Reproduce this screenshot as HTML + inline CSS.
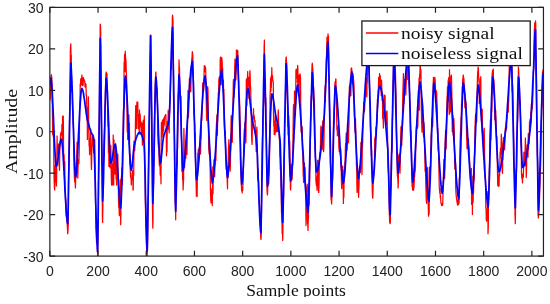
<!DOCTYPE html>
<html><head><meta charset="utf-8"><style>
html,body{margin:0;padding:0;background:#fff;}
body{width:550px;height:304px;overflow:hidden;}
svg{display:block;filter:blur(0.35px);}
</style></head><body>
<svg width="550" height="304" viewBox="0 0 550 304">
<defs><clipPath id="c"><rect x="49.9" y="7.4" width="493.6" height="248.7"/></clipPath></defs>
<g clip-path="url(#c)" fill="none" stroke-linejoin="round">
<polyline stroke="#ff0000" stroke-width="1.25" points="49.9,87.0 50.1,99.9 50.3,96.9 50.6,77.9 50.8,77.0 51.1,77.3 51.3,74.7 51.5,75.6 51.8,77.3 52.0,94.6 52.3,104.5 52.5,118.4 52.7,134.6 53.0,134.6 53.2,136.1 53.5,132.1 53.7,141.7 53.9,169.5 54.2,182.0 54.4,187.8 54.7,190.0 54.9,176.0 55.2,165.6 55.4,164.5 55.6,168.9 55.9,181.9 56.1,177.7 56.4,186.0 56.6,180.8 56.8,163.0 57.1,136.0 57.3,155.2 57.6,151.1 57.8,154.9 58.0,154.7 58.3,151.1 58.5,143.9 58.8,154.9 59.0,165.6 59.2,163.9 59.5,170.3 59.7,155.9 60.0,144.3 60.2,145.8 60.5,135.2 60.7,133.7 60.9,132.5 61.2,133.8 61.4,132.0 61.7,135.1 61.9,124.4 62.1,134.6 62.4,140.3 62.6,116.0 62.9,116.0 63.1,116.0 63.3,116.0 63.6,152.1 63.8,158.9 64.1,154.5 64.3,170.2 64.6,168.4 64.8,161.5 65.0,189.8 65.3,190.4 65.5,198.9 65.8,198.8 66.0,204.1 66.2,215.9 66.5,214.1 66.7,212.3 67.0,216.6 67.2,223.9 67.4,227.9 67.7,233.8 67.9,231.6 68.2,227.5 68.4,196.6 68.6,169.8 68.9,162.7 69.1,142.2 69.4,128.6 69.6,117.0 69.9,94.6 70.1,95.0 70.3,51.4 70.6,45.9 70.8,43.8 71.1,60.0 71.3,55.3 71.5,88.9 71.8,92.1 72.0,91.9 72.3,91.7 72.5,103.1 72.7,107.4 73.0,114.2 73.2,123.0 73.5,129.0 73.7,143.8 74.0,166.4 74.2,172.2 74.4,177.3 74.7,181.8 74.9,173.8 75.2,183.6 75.4,188.0 75.6,183.0 75.9,167.6 76.1,177.6 76.4,162.6 76.6,168.9 76.8,152.0 77.1,142.1 77.3,153.6 77.6,171.1 77.8,178.1 78.0,169.3 78.3,160.5 78.5,159.1 78.8,163.6 79.0,159.3 79.3,146.7 79.5,124.3 79.7,106.7 80.0,102.9 80.2,83.8 80.5,86.4 80.7,79.0 80.9,82.0 81.2,84.7 81.4,78.5 81.7,79.3 81.9,75.0 82.1,77.1 82.4,85.3 82.6,77.4 82.9,79.1 83.1,85.7 83.4,77.7 83.6,78.3 83.8,79.0 84.1,79.6 84.3,81.2 84.6,80.9 84.8,81.6 85.0,86.8 85.3,87.1 85.5,83.6 85.8,84.2 86.0,84.9 86.2,95.5 86.5,95.2 86.7,104.0 87.0,120.8 87.2,107.2 87.4,139.4 87.7,114.5 87.9,110.6 88.2,119.9 88.4,96.8 88.7,122.9 88.9,133.3 89.1,145.4 89.4,147.1 89.6,154.7 89.9,146.0 90.1,138.5 90.3,143.7 90.6,129.4 90.8,147.0 91.1,155.7 91.3,165.9 91.5,169.5 91.8,153.0 92.0,147.5 92.3,137.8 92.5,134.3 92.8,140.0 93.0,139.2 93.2,145.9 93.5,146.1 93.7,152.8 94.0,152.6 94.2,139.9 94.4,141.2 94.7,139.5 94.9,151.5 95.2,175.5 95.4,186.5 95.6,205.3 95.9,228.9 96.1,230.2 96.4,237.1 96.6,243.3 96.8,228.9 97.1,237.9 97.3,228.6 97.6,256.0 97.8,253.5 98.1,222.0 98.3,212.5 98.5,183.9 98.8,165.0 99.0,131.4 99.3,108.9 99.5,93.9 99.7,70.7 100.0,55.3 100.2,24.2 100.5,25.4 100.7,32.1 100.9,60.1 101.2,77.7 101.4,101.4 101.7,144.6 101.9,151.2 102.2,178.1 102.4,217.1 102.6,222.5 102.9,205.3 103.1,182.7 103.4,163.8 103.6,160.4 103.8,146.0 104.1,139.6 104.3,132.6 104.6,127.9 104.8,123.3 105.0,104.5 105.3,99.0 105.5,85.8 105.8,76.3 106.0,73.3 106.2,72.0 106.5,74.0 106.7,82.7 107.0,73.5 107.2,94.2 107.5,100.2 107.7,114.5 107.9,126.4 108.2,125.8 108.4,152.9 108.7,135.6 108.9,166.4 109.1,147.3 109.4,139.6 109.6,157.4 109.9,157.7 110.1,167.9 110.3,160.2 110.6,165.3 110.8,145.3 111.1,161.6 111.3,177.8 111.6,185.0 111.8,185.0 112.0,184.3 112.3,172.0 112.5,163.6 112.8,165.1 113.0,185.0 113.2,135.0 113.5,147.7 113.7,185.0 114.0,139.8 114.2,164.9 114.4,157.2 114.7,164.2 114.9,174.0 115.2,155.2 115.4,151.9 115.6,143.5 115.9,158.5 116.1,179.3 116.4,162.6 116.6,185.0 116.9,174.0 117.1,157.3 117.3,168.7 117.6,161.3 117.8,154.0 118.1,176.7 118.3,173.1 118.5,200.6 118.8,207.9 119.0,205.7 119.3,215.7 119.5,190.4 119.7,189.6 120.0,186.3 120.2,179.8 120.5,213.4 120.7,224.8 120.9,214.1 121.2,178.0 121.4,177.0 121.7,173.8 121.9,167.6 122.2,177.9 122.4,184.6 122.6,169.9 122.9,156.1 123.1,131.3 123.4,111.3 123.6,108.3 123.8,109.4 124.1,62.8 124.3,64.7 124.6,54.3 124.8,64.3 125.0,71.7 125.3,51.2 125.5,56.9 125.8,60.3 126.0,60.6 126.3,72.8 126.5,75.2 126.7,81.9 127.0,114.3 127.2,132.1 127.5,128.1 127.7,139.5 127.9,127.0 128.2,121.3 128.4,138.8 128.7,133.4 128.9,114.9 129.1,130.2 129.4,123.1 129.6,143.3 129.9,164.1 130.1,154.1 130.3,172.3 130.6,176.9 130.8,177.4 131.1,178.8 131.3,185.0 131.6,177.3 131.8,179.1 132.0,176.1 132.3,170.9 132.5,172.9 132.8,170.6 133.0,190.0 133.2,190.0 133.5,170.4 133.7,175.6 134.0,141.1 134.2,144.8 134.4,149.7 134.7,150.7 134.9,145.7 135.2,144.5 135.4,124.9 135.7,105.7 135.9,121.1 136.1,119.0 136.4,128.6 136.6,114.4 136.9,102.0 137.1,102.0 137.3,102.0 137.6,102.0 137.8,102.0 138.1,128.6 138.3,128.5 138.5,117.0 138.8,114.3 139.0,124.3 139.3,134.2 139.5,110.0 139.7,127.2 140.0,113.8 140.2,114.6 140.5,125.7 140.7,121.2 141.0,122.2 141.2,134.3 141.4,131.6 141.7,123.2 141.9,123.4 142.2,131.0 142.4,145.2 142.6,134.6 142.9,136.0 143.1,121.6 143.4,120.1 143.6,133.3 143.8,142.9 144.1,130.3 144.3,115.8 144.6,149.1 144.8,166.7 145.1,175.3 145.3,199.9 145.5,211.1 145.8,227.8 146.0,230.0 146.3,238.7 146.5,246.2 146.7,252.2 147.0,252.9 147.2,256.0 147.5,246.7 147.7,234.5 147.9,220.9 148.2,200.5 148.4,189.0 148.7,155.4 148.9,155.2 149.1,138.1 149.4,118.1 149.6,100.1 149.9,80.2 150.1,67.4 150.4,35.4 150.6,35.0 150.8,35.2 151.1,78.8 151.3,96.5 151.6,109.1 151.8,120.4 152.0,140.6 152.3,157.4 152.5,209.2 152.8,228.2 153.0,219.4 153.2,184.0 153.5,184.0 153.7,159.8 154.0,147.9 154.2,131.3 154.5,118.1 154.7,107.5 154.9,95.4 155.2,85.8 155.4,79.9 155.7,72.8 155.9,72.0 156.1,78.3 156.4,91.3 156.6,86.8 156.9,88.4 157.1,90.3 157.3,97.0 157.6,115.2 157.8,134.1 158.1,144.2 158.3,141.8 158.5,147.4 158.8,142.0 159.0,153.8 159.3,165.2 159.5,158.8 159.8,166.7 160.0,160.4 160.2,175.0 160.5,170.1 160.7,171.4 161.0,183.8 161.2,143.8 161.4,122.4 161.7,128.5 161.9,129.5 162.2,137.0 162.4,120.6 162.6,126.1 162.9,133.6 163.1,119.3 163.4,120.4 163.6,131.0 163.9,118.0 164.1,125.4 164.3,123.9 164.6,116.7 164.8,117.0 165.1,115.8 165.3,115.4 165.5,114.9 165.8,114.5 166.0,119.3 166.3,138.9 166.5,155.9 166.7,151.9 167.0,151.4 167.2,132.9 167.5,121.2 167.7,123.2 167.9,129.0 168.2,110.1 168.4,113.2 168.7,129.4 168.9,129.0 169.2,132.8 169.4,112.0 169.6,112.9 169.9,102.7 170.1,102.6 170.4,87.1 170.6,78.6 170.8,70.0 171.1,61.3 171.3,69.6 171.6,58.1 171.8,51.9 172.0,43.2 172.3,18.9 172.5,15.1 172.8,17.1 173.0,21.2 173.2,52.4 173.5,75.7 173.7,93.3 174.0,104.4 174.2,121.1 174.5,148.3 174.7,170.3 174.9,189.8 175.2,202.8 175.4,203.0 175.7,219.8 175.9,196.5 176.1,187.6 176.4,184.6 176.6,167.8 176.9,166.1 177.1,163.8 177.3,150.0 177.6,149.0 177.8,131.3 178.1,113.9 178.3,95.4 178.6,95.0 178.8,82.7 179.0,59.8 179.3,67.0 179.5,68.9 179.8,90.4 180.0,93.5 180.2,93.5 180.5,100.8 180.7,106.2 181.0,96.0 181.2,119.1 181.4,133.7 181.7,144.5 181.9,171.6 182.2,162.2 182.4,163.1 182.6,179.4 182.9,177.4 183.1,189.9 183.4,181.9 183.6,179.9 183.9,128.4 184.1,138.7 184.3,158.3 184.6,167.3 184.8,151.2 185.1,153.1 185.3,157.1 185.5,153.0 185.8,158.5 186.0,149.3 186.3,143.8 186.5,133.8 186.7,136.3 187.0,154.5 187.2,141.8 187.5,125.7 187.7,109.7 188.0,90.5 188.2,98.9 188.4,117.6 188.7,111.3 188.9,99.4 189.2,97.2 189.4,78.5 189.6,88.1 189.9,88.8 190.1,82.2 190.4,91.8 190.6,86.9 190.8,91.7 191.1,77.2 191.3,72.4 191.6,65.4 191.8,58.1 192.0,58.9 192.3,51.7 192.5,53.1 192.8,55.5 193.0,61.6 193.3,75.2 193.5,81.7 193.7,102.7 194.0,115.1 194.2,116.9 194.5,121.9 194.7,124.2 194.9,135.4 195.2,132.8 195.4,157.9 195.7,174.6 195.9,178.2 196.1,183.0 196.4,196.2 196.6,195.5 196.9,189.7 197.1,196.6 197.4,177.1 197.6,165.6 197.8,153.1 198.1,156.0 198.3,149.9 198.6,149.0 198.8,161.3 199.0,158.6 199.3,157.4 199.5,146.9 199.8,147.7 200.0,147.4 200.2,143.1 200.5,154.1 200.7,148.0 201.0,130.4 201.2,139.1 201.4,119.7 201.7,120.9 201.9,117.2 202.2,105.9 202.4,99.3 202.7,82.8 202.9,90.3 203.1,85.3 203.4,91.2 203.6,91.3 203.9,84.6 204.1,71.5 204.3,65.8 204.6,71.3 204.8,65.7 205.1,68.0 205.3,69.5 205.5,67.0 205.8,73.3 206.0,92.3 206.3,102.7 206.5,115.5 206.8,120.4 207.0,109.2 207.2,96.1 207.5,89.5 207.7,86.6 208.0,90.0 208.2,103.8 208.4,122.3 208.7,148.4 208.9,151.3 209.2,154.2 209.4,142.2 209.6,145.8 209.9,155.5 210.1,162.4 210.4,189.9 210.6,194.5 210.8,200.9 211.1,203.0 211.3,196.5 211.6,201.9 211.8,188.9 212.1,197.2 212.3,205.6 212.5,188.2 212.8,166.8 213.0,193.8 213.3,172.4 213.5,176.4 213.7,165.7 214.0,159.6 214.2,163.0 214.5,168.2 214.7,176.6 214.9,161.9 215.2,165.1 215.4,157.0 215.7,150.5 215.9,160.6 216.2,129.5 216.4,125.5 216.6,121.5 216.9,115.0 217.1,135.4 217.4,135.1 217.6,119.3 217.8,110.4 218.1,98.6 218.3,92.5 218.6,92.7 218.8,79.9 219.0,78.8 219.3,76.8 219.5,82.4 219.8,79.1 220.0,84.8 220.2,59.7 220.5,57.0 220.7,79.5 221.0,68.4 221.2,84.6 221.5,77.8 221.7,57.5 221.9,58.9 222.2,61.9 222.4,67.7 222.7,68.2 222.9,87.6 223.1,80.7 223.4,80.1 223.6,92.6 223.9,89.3 224.1,108.2 224.3,125.4 224.6,129.6 224.8,134.8 225.1,133.9 225.3,130.8 225.6,144.1 225.8,151.6 226.0,163.1 226.3,169.5 226.5,162.1 226.8,173.2 227.0,166.0 227.2,180.1 227.5,188.8 227.7,172.0 228.0,177.5 228.2,164.7 228.4,149.0 228.7,144.1 228.9,139.6 229.2,144.4 229.4,146.1 229.6,164.7 229.9,166.1 230.1,171.2 230.4,166.7 230.6,150.5 230.9,139.2 231.1,118.5 231.3,115.6 231.6,124.9 231.8,130.2 232.1,135.1 232.3,142.2 232.5,124.0 232.8,112.5 233.0,103.9 233.3,81.9 233.5,79.4 233.7,93.9 234.0,97.2 234.2,93.1 234.5,87.1 234.7,68.3 235.0,59.0 235.2,59.5 235.4,65.6 235.7,66.5 235.9,79.9 236.2,67.6 236.4,50.0 236.6,53.4 236.9,55.0 237.1,53.0 237.4,63.6 237.6,50.1 237.8,51.5 238.1,73.8 238.3,75.5 238.6,84.3 238.8,89.9 239.0,97.0 239.3,96.9 239.5,99.4 239.8,107.8 240.0,116.0 240.3,123.9 240.5,143.8 240.7,159.2 241.0,175.2 241.2,180.1 241.5,188.8 241.7,191.0 241.9,186.6 242.2,192.9 242.4,187.6 242.7,190.3 242.9,185.1 243.1,182.9 243.4,170.4 243.6,150.3 243.9,143.1 244.1,134.5 244.3,129.1 244.6,129.4 244.8,123.5 245.1,122.4 245.3,136.4 245.6,132.4 245.8,142.9 246.0,138.5 246.3,80.5 246.5,78.9 246.8,105.7 247.0,82.4 247.2,90.8 247.5,76.8 247.7,71.5 248.0,81.5 248.2,78.1 248.4,85.6 248.7,77.5 248.9,98.6 249.2,89.9 249.4,88.7 249.7,76.5 249.9,70.6 250.1,73.6 250.4,86.0 250.6,86.9 250.9,98.7 251.1,105.1 251.3,117.4 251.6,135.1 251.8,140.8 252.1,144.5 252.3,131.2 252.5,125.0 252.8,119.2 253.0,119.5 253.3,117.1 253.5,108.6 253.7,116.2 254.0,116.0 254.2,115.7 254.5,119.7 254.7,121.8 255.0,120.7 255.2,126.1 255.4,131.9 255.7,130.5 255.9,140.3 256.2,151.7 256.4,144.6 256.6,132.7 256.9,127.0 257.1,135.6 257.4,151.0 257.6,178.1 257.8,180.2 258.1,168.9 258.3,179.6 258.6,181.0 258.8,195.9 259.1,202.3 259.3,204.7 259.5,205.6 259.8,211.8 260.0,222.0 260.3,220.4 260.5,223.5 260.7,237.0 261.0,239.4 261.2,235.6 261.5,204.7 261.7,176.2 261.9,172.8 262.2,151.5 262.4,138.3 262.7,135.5 262.9,119.0 263.1,116.4 263.4,114.2 263.6,102.1 263.9,88.8 264.1,47.6 264.4,40.0 264.6,81.8 264.8,93.4 265.1,96.6 265.3,103.4 265.6,105.9 265.8,97.9 266.0,122.3 266.3,122.8 266.5,146.8 266.8,160.7 267.0,189.4 267.2,192.9 267.5,195.0 267.7,187.1 268.0,182.3 268.2,172.9 268.5,179.6 268.7,184.1 268.9,179.1 269.2,173.6 269.4,164.8 269.7,147.5 269.9,123.8 270.1,95.8 270.4,88.4 270.6,78.3 270.9,91.2 271.1,76.2 271.3,87.6 271.6,78.2 271.8,67.7 272.1,78.5 272.3,78.6 272.5,75.6 272.8,80.2 273.0,81.7 273.3,81.6 273.5,113.1 273.8,126.0 274.0,115.6 274.2,134.5 274.5,128.2 274.7,126.8 275.0,134.8 275.2,120.8 275.4,123.3 275.7,116.4 275.9,128.7 276.2,132.0 276.4,124.7 276.6,124.1 276.9,124.3 277.1,125.7 277.4,131.4 277.6,131.4 277.9,126.4 278.1,115.1 278.3,109.8 278.6,124.0 278.8,123.8 279.1,133.8 279.3,139.4 279.5,139.5 279.8,156.6 280.0,156.6 280.3,169.8 280.5,162.1 280.7,170.6 281.0,188.1 281.2,189.0 281.5,213.2 281.7,213.3 281.9,218.5 282.2,234.0 282.4,225.6 282.7,240.5 282.9,231.7 283.2,203.6 283.4,191.0 283.6,197.2 283.9,179.1 284.1,162.6 284.4,151.2 284.6,128.7 284.8,124.0 285.1,117.0 285.3,116.0 285.6,89.8 285.8,60.5 286.0,58.0 286.3,57.0 286.5,68.6 286.8,62.9 287.0,92.4 287.3,92.8 287.5,99.0 287.7,126.5 288.0,118.9 288.2,135.0 288.5,120.8 288.7,115.8 288.9,123.3 289.2,127.3 289.4,143.1 289.7,140.8 289.9,149.8 290.1,164.5 290.4,188.3 290.6,190.0 290.9,181.8 291.1,164.3 291.3,166.7 291.6,167.0 291.8,168.8 292.1,179.6 292.3,172.8 292.6,163.6 292.8,164.8 293.0,135.1 293.3,113.8 293.5,104.7 293.8,108.2 294.0,120.4 294.2,130.3 294.5,91.0 294.7,93.9 295.0,103.8 295.2,104.8 295.4,114.1 295.7,96.6 295.9,70.8 296.2,69.1 296.4,77.9 296.7,75.6 296.9,70.5 297.1,69.9 297.4,82.5 297.6,65.4 297.9,69.1 298.1,90.1 298.3,76.4 298.6,78.1 298.8,75.4 299.1,96.4 299.3,75.1 299.5,77.0 299.8,74.6 300.0,73.8 300.3,75.3 300.5,78.4 300.7,99.5 301.0,123.6 301.2,132.1 301.5,128.0 301.7,127.9 302.0,126.7 302.2,127.9 302.4,149.9 302.7,149.4 302.9,159.2 303.2,175.0 303.4,177.6 303.6,182.5 303.9,170.4 304.1,170.1 304.4,162.8 304.6,169.9 304.8,173.1 305.1,167.4 305.3,180.1 305.6,185.5 305.8,205.5 306.0,225.6 306.3,214.1 306.5,203.8 306.8,192.3 307.0,186.7 307.3,184.2 307.5,223.6 307.7,221.4 308.0,230.4 308.2,221.7 308.5,216.4 308.7,199.2 308.9,205.6 309.2,203.6 309.4,189.2 309.7,182.3 309.9,162.7 310.1,154.5 310.4,138.6 310.6,121.5 310.9,119.6 311.1,97.0 311.4,95.0 311.6,99.6 311.8,71.8 312.1,64.5 312.3,63.2 312.6,68.4 312.8,68.1 313.0,74.8 313.3,83.4 313.5,87.6 313.8,91.3 314.0,98.9 314.2,98.0 314.5,104.5 314.7,122.7 315.0,140.4 315.2,151.0 315.4,156.3 315.7,163.1 315.9,180.7 316.2,183.3 316.4,185.4 316.7,177.2 316.9,186.9 317.1,190.4 317.4,173.9 317.6,160.3 317.9,160.4 318.1,166.7 318.3,182.2 318.6,192.4 318.8,192.4 319.1,182.3 319.3,163.9 319.5,157.1 319.8,152.6 320.0,154.4 320.3,150.4 320.5,143.4 320.8,127.7 321.0,126.0 321.2,127.1 321.5,127.4 321.7,137.6 322.0,135.3 322.2,149.7 322.4,140.8 322.7,121.0 322.9,124.1 323.2,121.9 323.4,137.0 323.6,151.7 323.9,146.2 324.1,134.5 324.4,111.8 324.6,101.4 324.8,96.0 325.1,85.7 325.3,102.1 325.6,89.3 325.8,76.7 326.1,82.3 326.3,58.9 326.5,56.1 326.8,44.5 327.0,37.1 327.3,37.9 327.5,45.4 327.7,56.3 328.0,33.9 328.2,37.0 328.5,36.4 328.7,61.6 328.9,73.1 329.2,80.5 329.4,100.4 329.7,119.2 329.9,138.9 330.2,154.4 330.4,163.3 330.6,167.0 330.9,181.4 331.1,199.6 331.4,200.9 331.6,204.0 331.8,200.2 332.1,190.6 332.3,182.4 332.6,178.6 332.8,164.2 333.0,145.9 333.3,139.5 333.5,121.1 333.8,124.6 334.0,120.9 334.2,107.9 334.5,105.0 334.7,90.1 335.0,82.2 335.2,81.7 335.5,82.3 335.7,79.0 335.9,79.1 336.2,89.6 336.4,101.1 336.7,119.0 336.9,129.9 337.1,125.1 337.4,135.9 337.6,135.1 337.9,126.7 338.1,133.9 338.3,133.8 338.6,131.3 338.8,145.5 339.1,150.2 339.3,151.6 339.6,151.8 339.8,151.5 340.0,150.3 340.3,154.1 340.5,148.4 340.8,151.9 341.0,166.7 341.2,169.4 341.5,184.2 341.7,188.6 342.0,176.8 342.2,169.4 342.4,169.2 342.7,166.2 342.9,180.2 343.2,188.9 343.4,203.4 343.6,179.9 343.9,197.2 344.1,170.4 344.4,169.4 344.6,173.7 344.9,161.5 345.1,161.7 345.3,150.2 345.6,143.5 345.8,147.5 346.1,136.0 346.3,132.9 346.5,140.9 346.8,133.7 347.0,150.2 347.3,144.9 347.5,133.3 347.7,143.9 348.0,124.4 348.2,136.6 348.5,142.6 348.7,131.1 349.0,123.6 349.2,100.0 349.4,86.2 349.7,89.8 349.9,84.6 350.2,96.1 350.4,95.0 350.6,86.6 350.9,95.4 351.1,68.5 351.4,71.0 351.6,67.8 351.8,70.0 352.1,72.3 352.3,83.4 352.6,77.5 352.8,79.1 353.0,73.7 353.3,76.3 353.5,79.2 353.8,82.4 354.0,86.4 354.3,114.1 354.5,117.7 354.7,125.7 355.0,132.3 355.2,127.4 355.5,118.7 355.7,131.4 355.9,141.2 356.2,147.7 356.4,164.3 356.7,170.1 356.9,186.1 357.1,192.5 357.4,186.1 357.6,190.4 357.9,172.5 358.1,184.9 358.4,188.9 358.6,197.3 358.8,190.8 359.1,184.2 359.3,170.1 359.6,166.6 359.8,168.7 360.0,167.2 360.3,172.7 360.5,165.2 360.8,155.2 361.0,142.4 361.2,148.7 361.5,162.2 361.7,168.9 362.0,174.6 362.2,155.2 362.4,148.4 362.7,141.9 362.9,122.7 363.2,120.7 363.4,117.3 363.7,102.3 363.9,110.7 364.1,112.1 364.4,111.4 364.6,109.6 364.9,101.0 365.1,102.1 365.3,96.8 365.6,93.2 365.8,90.6 366.1,87.2 366.3,78.1 366.5,83.4 366.8,97.0 367.0,84.4 367.3,81.9 367.5,70.2 367.7,46.0 368.0,48.6 368.2,45.0 368.5,50.4 368.7,48.5 369.0,54.7 369.2,67.5 369.4,77.9 369.7,97.3 369.9,102.2 370.2,108.1 370.4,125.7 370.6,133.8 370.9,143.0 371.1,147.8 371.4,155.8 371.6,150.2 371.8,161.3 372.1,172.1 372.3,191.8 372.6,197.3 372.8,198.2 373.1,188.8 373.3,174.8 373.5,171.4 373.8,172.9 374.0,170.8 374.3,165.1 374.5,160.5 374.7,138.9 375.0,138.1 375.2,137.1 375.5,136.3 375.7,138.6 375.9,127.5 376.2,129.3 376.4,129.6 376.7,122.9 376.9,124.6 377.1,115.7 377.4,99.1 377.6,107.7 377.9,95.9 378.1,91.4 378.4,88.7 378.6,77.9 378.8,77.3 379.1,84.4 379.3,80.2 379.6,73.5 379.8,77.2 380.0,87.5 380.3,75.9 380.5,82.6 380.8,82.0 381.0,90.2 381.2,95.6 381.5,80.1 381.7,84.1 382.0,100.3 382.2,95.1 382.5,102.6 382.7,118.5 382.9,114.4 383.2,120.1 383.4,128.0 383.7,112.1 383.9,111.9 384.1,114.8 384.4,95.0 384.6,107.8 384.9,103.4 385.1,95.7 385.3,118.6 385.6,111.6 385.8,113.0 386.1,124.8 386.3,116.0 386.5,113.8 386.8,115.1 387.0,110.9 387.3,124.6 387.5,133.5 387.8,148.5 388.0,166.4 388.2,170.3 388.5,173.1 388.7,178.0 389.0,192.1 389.2,201.3 389.4,215.7 389.7,222.8 389.9,217.8 390.2,223.7 390.4,220.8 390.6,200.0 390.9,183.5 391.1,164.5 391.4,156.7 391.6,151.9 391.9,152.3 392.1,147.1 392.3,127.0 392.6,114.9 392.8,101.8 393.1,80.5 393.3,82.0 393.5,50.5 393.8,71.7 394.0,45.0 394.3,49.7 394.5,63.0 394.7,53.5 395.0,59.5 395.2,66.4 395.5,73.9 395.7,81.9 395.9,90.2 396.2,105.9 396.4,125.4 396.7,150.7 396.9,158.2 397.2,169.1 397.4,176.3 397.6,176.5 397.9,179.9 398.1,188.0 398.4,179.4 398.6,155.8 398.8,166.2 399.1,154.1 399.3,161.2 399.6,164.5 399.8,164.0 400.0,173.3 400.3,163.2 400.5,147.5 400.8,133.1 401.0,126.7 401.3,137.5 401.5,141.7 401.7,145.8 402.0,133.5 402.2,124.6 402.5,116.2 402.7,99.3 402.9,91.2 403.2,82.0 403.4,73.7 403.7,94.5 403.9,103.0 404.1,94.5 404.4,93.7 404.6,89.7 404.9,79.5 405.1,88.6 405.3,91.8 405.6,87.8 405.8,95.1 406.1,84.2 406.3,82.2 406.6,70.1 406.8,70.9 407.0,71.3 407.3,79.5 407.5,50.7 407.8,46.5 408.0,45.0 408.2,54.3 408.5,48.0 408.7,65.9 409.0,82.9 409.2,85.3 409.4,86.8 409.7,101.4 409.9,101.6 410.2,109.3 410.4,131.8 410.7,138.2 410.9,130.3 411.1,140.4 411.4,145.5 411.6,152.9 411.9,174.0 412.1,186.5 412.3,186.5 412.6,190.0 412.8,186.4 413.1,174.4 413.3,183.7 413.5,190.3 413.8,186.7 414.0,188.1 414.3,180.1 414.5,168.1 414.7,176.6 415.0,163.7 415.2,171.7 415.5,166.0 415.7,147.9 416.0,142.0 416.2,131.3 416.4,127.4 416.7,124.9 416.9,125.8 417.2,128.5 417.4,127.3 417.6,127.5 417.9,125.2 418.1,105.7 418.4,90.6 418.6,94.0 418.8,93.9 419.1,77.8 419.3,110.2 419.6,74.7 419.8,78.5 420.1,65.0 420.3,63.0 420.5,74.0 420.8,69.4 421.0,71.9 421.3,108.7 421.5,118.0 421.7,123.8 422.0,132.2 422.2,115.0 422.5,101.4 422.7,109.5 422.9,115.6 423.2,122.7 423.4,134.5 423.7,136.8 423.9,122.7 424.1,130.0 424.4,140.9 424.6,143.8 424.9,160.3 425.1,171.3 425.4,160.0 425.6,173.4 425.8,184.4 426.1,193.7 426.3,200.8 426.6,203.3 426.8,192.8 427.0,179.7 427.3,167.5 427.5,168.2 427.8,181.8 428.0,199.8 428.2,203.9 428.5,216.2 428.7,205.2 429.0,214.6 429.2,210.1 429.4,167.0 429.7,171.7 429.9,169.2 430.2,167.2 430.4,168.2 430.7,153.8 430.9,144.8 431.1,135.6 431.4,133.0 431.6,123.5 431.9,118.1 432.1,118.2 432.3,117.9 432.6,126.8 432.8,120.4 433.1,106.6 433.3,80.9 433.5,77.4 433.8,78.0 434.0,92.8 434.3,89.2 434.5,85.7 434.8,77.3 435.0,78.5 435.2,80.7 435.5,89.2 435.7,91.2 436.0,101.6 436.2,92.8 436.4,90.9 436.7,93.6 436.9,101.4 437.2,105.3 437.4,114.9 437.6,130.8 437.9,128.5 438.1,149.8 438.4,151.1 438.6,153.0 438.8,163.9 439.1,177.9 439.3,188.0 439.6,190.7 439.8,193.2 440.1,188.7 440.3,197.8 440.5,195.3 440.8,201.5 441.0,203.0 441.3,204.1 441.5,205.0 441.7,205.5 442.0,205.6 442.2,203.4 442.5,205.3 442.7,204.8 442.9,198.9 443.2,185.4 443.4,174.0 443.7,166.0 443.9,159.3 444.2,169.3 444.4,175.2 444.6,178.5 444.9,167.7 445.1,144.2 445.4,136.9 445.6,130.3 445.8,131.8 446.1,148.9 446.3,139.8 446.6,132.4 446.8,109.0 447.0,98.3 447.3,94.7 447.5,86.7 447.8,101.5 448.0,86.7 448.2,79.9 448.5,95.7 448.7,77.6 449.0,107.2 449.2,114.5 449.5,69.6 449.7,78.8 449.9,112.9 450.2,76.7 450.4,111.6 450.7,111.0 450.9,95.2 451.1,81.6 451.4,75.0 451.6,81.5 451.9,97.6 452.1,115.0 452.3,131.8 452.6,129.0 452.8,115.6 453.1,134.9 453.3,131.9 453.6,126.6 453.8,118.4 454.0,120.8 454.3,132.5 454.5,152.9 454.8,169.1 455.0,164.9 455.2,169.0 455.5,162.9 455.7,188.0 456.0,193.3 456.2,195.6 456.4,197.7 456.7,199.6 456.9,201.3 457.2,202.8 457.4,204.1 457.6,205.2 457.9,200.1 458.1,199.6 458.4,200.4 458.6,204.5 458.9,202.0 459.1,202.8 459.3,178.4 459.6,178.9 459.8,160.2 460.1,143.4 460.3,137.2 460.5,130.7 460.8,124.0 461.0,117.4 461.3,117.8 461.5,103.8 461.7,106.4 462.0,99.3 462.2,86.6 462.5,93.1 462.7,79.2 463.0,78.1 463.2,75.0 463.4,75.7 463.7,81.1 463.9,78.4 464.2,86.2 464.4,93.9 464.6,91.4 464.9,107.8 465.1,107.5 465.4,99.9 465.6,106.2 465.8,101.8 466.1,104.9 466.3,118.3 466.6,136.3 466.8,140.9 467.0,148.3 467.3,149.0 467.5,145.8 467.8,147.8 468.0,143.1 468.3,140.4 468.5,139.0 468.7,148.5 469.0,146.9 469.2,154.1 469.5,158.6 469.7,164.1 469.9,169.3 470.2,174.8 470.4,179.1 470.7,171.1 470.9,179.7 471.1,181.2 471.4,168.4 471.6,204.3 471.9,181.0 472.1,176.2 472.4,214.6 472.6,192.2 472.8,200.6 473.1,202.4 473.3,194.3 473.6,191.9 473.8,180.3 474.0,181.8 474.3,177.0 474.5,156.8 474.8,150.2 475.0,128.2 475.2,121.8 475.5,115.9 475.7,113.8 476.0,115.3 476.2,119.2 476.4,116.2 476.7,122.0 476.9,105.7 477.2,88.2 477.4,79.0 477.7,71.5 477.9,72.1 478.1,67.0 478.4,68.6 478.6,75.6 478.9,82.2 479.1,78.5 479.3,103.6 479.6,99.8 479.8,93.7 480.1,95.5 480.3,95.9 480.5,81.4 480.8,76.6 481.0,104.9 481.3,115.4 481.5,120.6 481.8,122.4 482.0,114.3 482.2,109.1 482.5,127.2 482.7,137.0 483.0,136.4 483.2,146.2 483.4,138.9 483.7,134.0 483.9,130.9 484.2,128.2 484.4,137.8 484.6,154.4 484.9,165.9 485.1,177.8 485.4,176.4 485.6,189.8 485.8,207.3 486.1,209.3 486.3,219.6 486.6,221.2 486.8,214.2 487.1,215.2 487.3,214.8 487.5,202.7 487.8,191.6 488.0,233.8 488.3,227.0 488.5,197.3 488.7,199.6 489.0,190.2 489.2,171.9 489.5,166.2 489.7,155.7 489.9,135.0 490.2,127.3 490.4,119.8 490.7,128.3 490.9,139.7 491.1,129.3 491.4,123.4 491.6,113.2 491.9,111.3 492.1,74.7 492.4,72.7 492.6,70.4 492.8,75.5 493.1,75.1 493.3,69.1 493.6,87.0 493.8,79.4 494.0,83.3 494.3,95.2 494.5,90.6 494.8,119.9 495.0,116.0 495.2,113.0 495.5,115.8 495.7,110.2 496.0,122.4 496.2,127.5 496.5,139.3 496.7,136.0 496.9,139.3 497.2,159.0 497.4,167.7 497.7,184.0 497.9,185.9 498.1,172.8 498.4,180.7 498.6,180.8 498.9,186.5 499.1,185.5 499.3,175.1 499.6,175.4 499.8,169.7 500.1,152.0 500.3,157.9 500.5,148.1 500.8,154.3 501.0,151.2 501.3,134.1 501.5,136.3 501.8,139.5 502.0,147.3 502.2,171.9 502.5,173.3 502.7,157.1 503.0,159.8 503.2,142.7 503.4,145.9 503.7,137.4 503.9,141.3 504.2,139.3 504.4,141.9 504.6,149.8 504.9,142.1 505.1,132.2 505.4,127.7 505.6,129.4 505.9,130.5 506.1,128.5 506.3,122.9 506.6,128.8 506.8,118.3 507.1,118.0 507.3,115.1 507.5,110.4 507.8,100.5 508.0,100.1 508.3,112.2 508.5,104.6 508.7,100.0 509.0,84.9 509.2,68.4 509.5,57.6 509.7,55.8 509.9,54.3 510.2,53.1 510.4,52.2 510.7,51.6 510.9,61.1 511.2,60.5 511.4,55.0 511.6,58.8 511.9,58.0 512.1,90.5 512.4,92.1 512.6,85.3 512.8,95.0 513.1,105.1 513.3,115.5 513.6,132.7 513.8,144.1 514.0,162.7 514.3,169.2 514.5,170.2 514.8,178.8 515.0,213.6 515.3,223.7 515.5,213.8 515.7,176.6 516.0,175.1 516.2,169.4 516.5,171.3 516.7,157.8 516.9,147.9 517.2,131.9 517.4,123.9 517.7,120.5 517.9,112.7 518.1,103.8 518.4,67.0 518.6,68.8 518.9,75.7 519.1,78.6 519.3,81.8 519.6,95.5 519.8,97.6 520.1,103.4 520.3,101.7 520.6,118.4 520.8,138.6 521.0,145.0 521.3,149.0 521.5,174.2 521.8,177.9 522.0,173.9 522.2,178.6 522.5,183.0 522.7,175.1 523.0,177.5 523.2,176.6 523.4,176.9 523.7,160.9 523.9,152.2 524.2,165.3 524.4,159.4 524.7,159.9 524.9,165.7 525.1,151.8 525.4,138.0 525.6,146.4 525.9,155.0 526.1,166.2 526.3,177.6 526.6,167.2 526.8,155.8 527.1,144.8 527.3,152.9 527.5,150.2 527.8,152.3 528.0,157.2 528.3,133.5 528.5,149.2 528.7,141.9 529.0,134.7 529.2,143.3 529.5,121.7 529.7,122.5 530.0,119.2 530.2,120.2 530.4,124.6 530.7,112.0 530.9,122.5 531.2,116.1 531.4,103.8 531.6,111.4 531.9,102.5 532.1,109.2 532.4,105.9 532.6,104.3 532.8,95.6 533.1,82.0 533.3,79.9 533.6,70.0 533.8,68.1 534.1,48.9 534.3,32.5 534.5,27.3 534.8,22.9 535.0,27.0 535.3,32.4 535.5,20.8 535.7,22.9 536.0,70.8 536.2,81.9 536.5,105.0 536.7,117.2 536.9,133.6 537.2,150.3 537.4,155.4 537.7,162.5 537.9,178.2 538.1,215.6 538.4,218.0 538.6,212.5 538.9,213.5 539.1,208.6 539.4,202.9 539.6,196.4 539.8,189.4 540.1,181.9 540.3,174.1 540.6,165.9 540.8,158.1 541.0,145.0 541.3,128.4 541.5,118.0 541.8,107.6 542.0,107.4 542.2,105.1 542.5,72.4 542.7,72.4 543.0,70.0 543.2,83.6"/>
<polyline stroke="#0000ff" stroke-width="1.75" points="49.9,85.5 50.1,82.9 50.3,80.7 50.6,79.1 50.8,78.3 51.1,78.7 51.3,80.0 51.5,82.1 51.8,85.0 52.0,88.6 52.3,92.7 52.5,97.3 52.7,102.4 53.0,107.7 53.2,113.2 53.5,118.9 53.7,124.7 53.9,130.4 54.2,136.0 54.4,141.3 54.7,146.4 54.9,151.1 55.2,155.3 55.4,158.9 55.6,161.9 55.9,164.1 56.1,165.5 56.4,166.0 56.6,165.7 56.8,165.1 57.1,164.2 57.3,163.1 57.6,161.7 57.8,160.1 58.0,158.4 58.3,156.6 58.5,154.7 58.8,152.8 59.0,150.8 59.2,148.9 59.5,147.0 59.7,145.3 60.0,143.7 60.2,142.3 60.5,141.1 60.7,140.1 60.9,139.4 61.2,139.0 61.4,139.0 61.7,139.9 61.9,141.3 62.1,143.2 62.4,145.6 62.6,148.4 62.9,151.7 63.1,155.3 63.3,159.2 63.6,163.3 63.8,167.7 64.1,172.2 64.3,176.7 64.6,181.4 64.8,186.0 65.0,190.6 65.3,195.1 65.5,199.5 65.8,203.6 66.0,207.5 66.2,211.1 66.5,214.3 66.7,217.2 67.0,219.6 67.2,221.5 67.4,222.8 67.7,223.7 67.9,218.9 68.2,208.3 68.4,196.2 68.6,182.9 68.9,168.7 69.1,153.9 69.4,138.9 69.6,124.1 69.9,109.6 70.1,95.9 70.3,83.2 70.6,72.0 70.8,63.2 71.1,65.7 71.3,69.2 71.5,73.7 71.8,79.1 72.0,85.3 72.3,92.1 72.5,99.3 72.7,106.9 73.0,114.8 73.2,122.7 73.5,130.6 73.7,138.3 74.0,145.7 74.2,152.6 74.4,159.0 74.7,164.7 74.9,169.5 75.2,173.4 75.4,177.0 75.6,176.7 75.9,175.8 76.1,174.1 76.4,171.9 76.6,169.2 76.8,166.0 77.1,162.4 77.3,158.4 77.6,154.2 77.8,149.6 78.0,144.9 78.3,140.1 78.5,135.2 78.8,130.2 79.0,125.3 79.3,120.4 79.5,115.7 79.7,111.2 80.0,106.9 80.2,102.9 80.5,99.3 80.7,96.2 80.9,93.4 81.2,91.2 81.4,89.6 81.7,88.7 81.9,88.4 82.1,88.7 82.4,89.1 82.6,89.8 82.9,90.7 83.1,91.7 83.4,92.9 83.6,94.2 83.8,95.7 84.1,97.3 84.3,98.9 84.6,100.6 84.8,102.4 85.0,104.2 85.3,106.0 85.5,107.8 85.8,109.6 86.0,111.3 86.2,113.0 86.5,114.6 86.7,116.1 87.0,117.5 87.2,118.7 87.4,120.0 87.7,120.8 87.9,121.7 88.2,122.6 88.4,123.5 88.7,124.4 88.9,125.3 89.1,126.1 89.4,126.9 89.6,127.7 89.9,128.5 90.1,129.2 90.3,129.9 90.6,130.6 90.8,131.3 91.1,131.9 91.3,132.5 91.5,133.0 91.8,133.6 92.0,134.0 92.3,134.4 92.5,134.8 92.8,135.2 93.0,135.6 93.2,136.2 93.5,137.0 93.7,139.9 94.0,144.4 94.2,150.1 94.4,156.8 94.7,164.4 94.9,172.5 95.2,181.2 95.4,190.1 95.6,199.1 95.9,208.0 96.1,216.6 96.4,224.7 96.6,232.1 96.8,238.7 97.1,244.3 97.3,248.6 97.6,251.8 97.8,238.9 98.1,221.9 98.3,202.9 98.5,182.3 98.8,160.9 99.0,139.0 99.3,117.3 99.5,96.3 99.7,76.5 100.0,58.5 100.2,38.4 100.5,47.1 100.7,62.2 100.9,79.5 101.2,98.3 101.4,117.8 101.7,137.5 101.9,156.4 102.2,174.1 102.4,189.7 102.6,201.0 102.9,196.4 103.1,190.4 103.4,182.9 103.6,174.1 103.8,164.4 104.1,154.0 104.3,143.3 104.6,132.4 104.8,121.8 105.0,111.6 105.3,102.2 105.5,93.8 105.8,86.7 106.0,81.3 106.2,78.3 106.5,79.4 106.7,81.7 107.0,84.9 107.2,89.1 107.5,94.0 107.7,99.5 107.9,105.5 108.2,111.9 108.4,118.4 108.7,124.9 108.9,131.4 109.1,137.7 109.4,143.5 109.6,148.9 109.9,153.6 110.1,157.5 110.3,160.4 110.6,162.3 110.8,163.0 111.1,162.8 111.3,162.3 111.6,161.6 111.8,160.6 112.0,159.5 112.3,158.2 112.5,156.8 112.8,155.3 113.0,153.8 113.2,152.3 113.5,150.8 113.7,149.4 114.0,148.1 114.2,146.9 114.4,146.0 114.7,145.2 114.9,144.7 115.2,144.5 115.4,144.8 115.6,145.6 115.9,147.1 116.1,149.2 116.4,151.6 116.6,154.6 116.9,157.8 117.1,161.3 117.3,165.1 117.6,169.0 117.8,173.1 118.1,177.2 118.3,181.2 118.5,185.2 118.8,189.1 119.0,192.8 119.3,196.2 119.5,199.3 119.7,202.0 120.0,204.3 120.2,206.0 120.5,207.3 120.7,207.9 120.9,205.7 121.2,201.2 121.4,195.5 121.7,188.9 121.9,181.5 122.2,173.4 122.4,164.8 122.6,155.8 122.9,146.7 123.1,137.4 123.4,128.2 123.6,119.2 123.8,110.6 124.1,102.5 124.3,95.1 124.6,88.5 124.8,82.8 125.0,78.3 125.3,76.0 125.5,77.3 125.8,79.1 126.0,81.6 126.3,84.7 126.5,88.3 126.7,92.3 127.0,96.7 127.2,101.5 127.5,106.5 127.7,111.8 127.9,117.1 128.2,122.6 128.4,128.0 128.7,133.4 128.9,138.6 129.1,143.7 129.4,148.5 129.6,153.0 129.9,157.1 130.1,160.8 130.3,163.9 130.6,166.5 130.8,168.4 131.1,169.7 131.3,170.0 131.6,169.3 131.8,168.1 132.0,166.4 132.3,164.4 132.5,162.0 132.8,159.5 133.0,156.9 133.2,154.2 133.5,151.7 133.7,149.3 134.0,147.2 134.2,145.5 134.4,144.0 134.7,143.3 134.9,142.4 135.2,141.6 135.4,140.7 135.7,139.9 135.9,139.1 136.1,138.4 136.4,137.7 136.6,137.0 136.9,136.3 137.1,135.7 137.3,135.1 137.6,134.6 137.8,134.1 138.1,133.7 138.3,133.4 138.5,133.1 138.8,132.8 139.0,132.6 139.3,132.5 139.5,132.5 139.7,132.5 140.0,132.6 140.2,132.8 140.5,133.0 140.7,133.3 141.0,133.6 141.2,134.0 141.4,134.5 141.7,135.0 141.9,135.6 142.2,136.2 142.4,136.9 142.6,137.7 142.9,138.5 143.1,139.4 143.4,140.3 143.6,141.3 143.8,142.3 144.1,143.0 144.3,148.9 144.6,155.7 144.8,164.1 145.1,173.8 145.3,184.3 145.5,195.2 145.8,206.2 146.0,216.8 146.3,226.7 146.5,235.4 146.7,242.6 147.0,247.9 147.2,250.7 147.5,238.1 147.7,224.7 147.9,209.9 148.2,194.1 148.4,177.4 148.7,160.2 148.9,142.8 149.1,125.3 149.4,108.1 149.6,91.5 149.9,75.7 150.1,61.1 150.4,47.8 150.6,35.9 150.8,50.1 151.1,67.4 151.3,86.7 151.6,107.3 151.8,128.4 152.0,149.1 152.3,168.7 152.5,186.4 152.8,203.4 153.0,199.0 153.2,191.5 153.5,181.9 153.7,170.7 154.0,158.3 154.2,145.2 154.5,132.0 154.7,119.0 154.9,106.9 155.2,96.0 155.4,86.9 155.7,80.0 155.9,77.1 156.1,78.7 156.4,81.4 156.6,85.0 156.9,89.6 157.1,94.9 157.3,100.8 157.6,107.1 157.8,113.7 158.1,120.5 158.3,127.3 158.5,133.9 158.8,140.1 159.0,146.0 159.3,151.2 159.5,155.6 159.8,159.2 160.0,161.6 160.2,163.0 160.5,162.8 160.7,162.0 161.0,160.7 161.2,158.8 161.4,156.7 161.7,154.2 161.9,151.6 162.2,148.9 162.4,146.3 162.6,143.7 162.9,141.4 163.1,139.3 163.4,137.7 163.6,137.0 163.9,135.5 164.1,134.6 164.3,133.8 164.6,133.1 164.8,132.4 165.1,131.8 165.3,131.3 165.5,130.7 165.8,130.2 166.0,129.8 166.3,129.3 166.5,128.8 166.7,128.3 167.0,127.7 167.2,127.1 167.5,126.4 167.7,125.7 167.9,124.9 168.2,124.0 168.4,122.9 168.7,121.8 168.9,120.0 169.2,118.4 169.4,114.5 169.6,109.2 169.9,102.7 170.1,95.2 170.4,87.1 170.6,78.6 170.8,69.9 171.1,61.4 171.3,53.2 171.6,45.8 171.8,39.2 172.0,33.8 172.3,29.9 172.5,27.4 172.8,35.1 173.0,47.7 173.2,61.9 173.5,77.3 173.7,93.6 174.0,110.4 174.2,127.4 174.5,144.2 174.7,160.5 174.9,176.0 175.2,190.2 175.4,203.0 175.7,211.3 175.9,204.0 176.1,196.1 176.4,186.8 176.6,176.3 176.9,164.9 177.1,152.9 177.3,140.7 177.6,128.6 177.8,116.8 178.1,105.7 178.3,95.6 178.6,86.8 178.8,79.6 179.0,74.9 179.3,76.8 179.5,80.1 179.8,84.7 180.0,90.4 180.2,96.9 180.5,104.2 180.7,111.9 181.0,119.9 181.2,127.9 181.4,135.9 181.7,143.5 181.9,150.5 182.2,156.9 182.4,162.3 182.6,166.5 182.9,169.4 183.1,170.7 183.4,169.7 183.6,168.4 183.9,166.9 184.1,165.0 184.3,162.9 184.6,160.5 184.8,157.9 185.1,155.1 185.3,152.1 185.5,148.9 185.8,145.5 186.0,142.0 186.3,138.4 186.5,134.7 186.7,130.8 187.0,126.9 187.2,123.0 187.5,119.0 187.7,115.0 188.0,111.1 188.2,107.1 188.4,103.2 188.7,99.3 188.9,95.5 189.2,91.9 189.4,88.3 189.6,84.9 189.9,81.6 190.1,78.5 190.4,75.5 190.6,72.8 190.8,70.3 191.1,68.1 191.3,66.1 191.6,64.4 191.8,63.0 192.0,61.9 192.3,61.4 192.5,65.5 192.8,70.0 193.0,75.6 193.3,82.1 193.5,89.3 193.7,97.2 194.0,105.5 194.2,114.0 194.5,122.7 194.7,131.3 194.9,139.8 195.2,147.8 195.4,155.4 195.7,162.3 195.9,168.4 196.1,173.4 196.4,177.3 196.6,179.7 196.9,178.8 197.1,177.6 197.4,176.0 197.6,174.1 197.8,171.8 198.1,169.3 198.3,166.5 198.6,163.5 198.8,160.2 199.0,156.8 199.3,153.2 199.5,149.4 199.8,145.5 200.0,141.5 200.2,137.4 200.5,133.3 200.7,129.1 201.0,125.0 201.2,120.8 201.4,116.7 201.7,112.7 201.9,108.7 202.2,104.8 202.4,101.1 202.7,97.6 202.9,94.2 203.1,91.0 203.4,88.1 203.6,85.4 203.9,83.0 204.1,80.9 204.3,79.1 204.6,77.6 204.8,76.5 205.1,76.0 205.3,77.4 205.5,79.1 205.8,81.2 206.0,83.7 206.3,86.6 206.5,89.9 206.8,93.5 207.0,97.3 207.2,101.4 207.5,105.7 207.7,110.2 208.0,114.8 208.2,119.5 208.4,124.3 208.7,129.1 208.9,134.0 209.2,138.8 209.4,143.5 209.6,148.1 209.9,152.6 210.1,157.0 210.4,161.1 210.6,165.0 210.8,168.6 211.1,171.9 211.3,174.9 211.6,177.5 211.8,179.7 212.1,181.4 212.3,183.1 212.5,182.6 212.8,181.4 213.0,180.0 213.3,178.2 213.5,176.2 213.7,173.9 214.0,171.4 214.2,168.6 214.5,165.7 214.7,162.5 214.9,159.2 215.2,155.8 215.4,152.2 215.7,148.5 215.9,144.7 216.2,140.8 216.4,136.9 216.6,132.9 216.9,128.9 217.1,124.8 217.4,120.8 217.6,116.8 217.8,112.9 218.1,109.0 218.3,105.2 218.6,101.5 218.8,97.9 219.0,94.4 219.3,91.1 219.5,88.0 219.8,85.0 220.0,82.2 220.2,79.7 220.5,77.4 220.7,75.4 221.0,73.6 221.2,72.1 221.5,71.0 221.7,70.4 221.9,72.5 222.2,75.0 222.4,78.1 222.7,81.8 222.9,86.0 223.1,90.7 223.4,95.8 223.6,101.2 223.9,106.9 224.1,112.8 224.3,118.8 224.6,124.9 224.8,130.9 225.1,136.9 225.3,142.7 225.6,148.3 225.8,153.7 226.0,158.6 226.3,163.2 226.5,167.3 226.8,170.8 227.0,173.7 227.2,175.9 227.5,177.5 227.7,176.5 228.0,175.1 228.2,173.4 228.4,171.5 228.7,169.4 228.9,167.1 229.2,164.6 229.4,161.9 229.6,159.0 229.9,155.9 230.1,152.8 230.4,149.5 230.6,146.0 230.9,142.5 231.1,138.9 231.3,135.2 231.6,131.4 231.8,127.6 232.1,123.7 232.3,119.8 232.5,116.0 232.8,112.1 233.0,108.2 233.3,104.4 233.5,100.5 233.7,96.8 234.0,93.1 234.2,89.5 234.5,86.0 234.7,82.6 235.0,79.4 235.2,76.2 235.4,73.3 235.7,70.4 235.9,67.8 236.2,65.3 236.4,63.1 236.6,61.0 236.9,59.2 237.1,57.7 237.4,56.3 237.6,55.7 237.8,61.4 238.1,66.9 238.3,73.6 238.6,81.1 238.8,89.5 239.0,98.3 239.3,107.6 239.5,117.1 239.8,126.7 240.0,136.1 240.3,145.3 240.5,154.0 240.7,162.0 241.0,169.2 241.2,175.4 241.5,180.5 241.7,184.2 241.9,183.3 242.2,181.7 242.4,179.5 242.7,176.7 242.9,173.3 243.1,169.4 243.4,165.2 243.6,160.6 243.9,155.7 244.1,150.6 244.3,145.3 244.6,139.9 244.8,134.5 245.1,129.1 245.3,123.7 245.6,118.6 245.8,113.6 246.0,108.9 246.3,104.5 246.5,100.5 246.8,97.0 247.0,94.0 247.2,91.5 247.5,89.7 247.7,88.4 248.0,88.5 248.2,89.0 248.4,89.8 248.7,90.9 248.9,92.3 249.2,94.0 249.4,95.8 249.7,97.8 249.9,99.9 250.1,102.2 250.4,104.4 250.6,106.7 250.9,108.9 251.1,111.1 251.3,113.2 251.6,115.1 251.8,116.8 252.1,118.0 252.3,119.8 252.5,121.0 252.8,122.2 253.0,123.4 253.3,124.4 253.5,125.5 253.7,126.5 254.0,127.5 254.2,128.6 254.5,129.6 254.7,130.7 255.0,131.9 255.2,133.2 255.4,134.5 255.7,136.0 255.9,137.6 256.2,139.3 256.4,142.0 256.6,143.5 256.9,146.9 257.1,151.2 257.4,156.2 257.6,161.9 257.8,168.0 258.1,174.4 258.3,181.1 258.6,187.9 258.8,194.7 259.1,201.3 259.3,207.6 259.5,213.5 259.8,218.8 260.0,223.5 260.3,227.4 260.5,230.3 260.7,232.1 261.0,232.7 261.2,219.6 261.5,208.2 261.7,195.7 261.9,182.3 262.2,168.3 262.4,154.0 262.7,139.4 262.9,124.9 263.1,110.8 263.4,97.1 263.6,84.2 263.9,72.3 264.1,61.5 264.4,54.2 264.6,61.6 264.8,70.1 265.1,80.4 265.3,92.0 265.6,104.6 265.8,117.6 266.0,130.8 266.3,143.6 266.5,155.6 266.8,166.5 267.0,175.8 267.2,183.1 267.5,186.5 267.7,184.5 268.0,181.6 268.2,177.7 268.5,172.8 268.7,167.2 268.9,160.9 269.2,154.2 269.4,147.2 269.7,140.1 269.9,132.9 270.1,125.9 270.4,119.2 270.6,113.0 270.9,107.4 271.1,102.6 271.3,98.7 271.6,95.8 271.8,94.0 272.1,94.1 272.3,94.5 272.5,95.2 272.8,96.1 273.0,97.3 273.3,98.7 273.5,100.2 273.8,101.8 274.0,103.5 274.2,105.3 274.5,107.1 274.7,108.9 275.0,110.6 275.2,112.2 275.4,114.0 275.7,115.0 275.9,116.2 276.2,117.4 276.4,118.5 276.6,119.6 276.9,120.6 277.1,121.6 277.4,122.7 277.6,123.7 277.9,124.9 278.1,126.1 278.3,127.3 278.6,128.7 278.8,130.2 279.1,131.9 279.3,133.7 279.5,135.6 279.8,137.8 280.0,140.0 280.3,144.4 280.5,151.0 280.7,159.4 281.0,169.0 281.2,179.3 281.5,189.6 281.7,199.5 281.9,208.2 282.2,215.4 282.4,220.3 282.7,222.5 282.9,215.4 283.2,205.9 283.4,195.3 283.6,183.7 283.9,171.3 284.1,158.5 284.4,145.3 284.6,132.2 284.8,119.2 285.1,106.6 285.3,94.7 285.6,83.7 285.8,73.8 286.0,63.6 286.3,65.5 286.5,69.1 286.8,73.8 287.0,79.5 287.3,86.1 287.5,93.3 287.7,101.0 288.0,109.1 288.2,117.5 288.5,125.9 288.7,134.3 288.9,142.5 289.2,150.3 289.4,157.6 289.7,164.2 289.9,170.0 290.1,174.9 290.4,178.6 290.6,180.9 290.9,180.1 291.1,178.7 291.3,176.9 291.6,174.6 291.8,171.9 292.1,168.8 292.3,165.3 292.6,161.5 292.8,157.5 293.0,153.3 293.3,148.9 293.5,144.3 293.8,139.7 294.0,134.9 294.2,130.2 294.5,125.5 294.7,120.9 295.0,116.3 295.2,111.9 295.4,107.7 295.7,103.7 295.9,100.0 296.2,96.6 296.4,93.6 296.7,90.9 296.9,88.7 297.1,86.9 297.4,85.7 297.6,85.0 297.9,86.4 298.1,87.9 298.3,89.7 298.6,91.7 298.8,93.8 299.1,96.2 299.3,98.7 299.5,101.5 299.8,104.3 300.0,107.3 300.3,110.5 300.5,113.8 300.7,117.1 301.0,120.6 301.2,124.2 301.5,127.8 301.7,131.5 302.0,135.3 302.2,139.1 302.4,142.9 302.7,146.7 302.9,150.6 303.2,154.4 303.4,158.2 303.6,162.0 303.9,165.8 304.1,169.5 304.4,173.1 304.6,176.7 304.8,180.2 305.1,183.5 305.3,186.8 305.6,190.0 305.8,193.0 306.0,195.8 306.3,198.6 306.5,201.1 306.8,203.5 307.0,205.7 307.3,207.7 307.5,209.4 307.7,211.0 308.0,212.4 308.2,208.3 308.5,202.7 308.7,196.1 308.9,188.5 309.2,180.2 309.4,171.4 309.7,162.0 309.9,152.4 310.1,142.6 310.4,132.8 310.6,123.2 310.9,113.9 311.1,105.0 311.4,96.7 311.6,89.1 311.8,82.4 312.1,76.8 312.3,72.6 312.6,74.5 312.8,77.9 313.0,82.6 313.3,88.4 313.5,95.1 313.8,102.5 314.0,110.4 314.2,118.6 314.5,126.8 314.7,135.0 315.0,142.8 315.2,150.2 315.4,156.8 315.7,162.4 315.9,167.0 316.2,170.2 316.4,171.8 316.7,171.7 316.9,171.5 317.1,171.1 317.4,170.6 317.6,169.9 317.9,169.1 318.1,168.2 318.3,167.1 318.6,165.9 318.8,164.6 319.1,163.2 319.3,161.8 319.5,160.2 319.8,158.5 320.0,156.7 320.3,154.8 320.5,152.9 320.8,150.9 321.0,148.8 321.2,146.6 321.5,144.4 321.7,142.2 322.0,139.8 322.2,137.5 322.4,135.1 322.7,132.7 322.9,130.2 323.2,127.7 323.4,125.2 323.6,122.7 323.9,120.0 324.1,117.2 324.4,113.5 324.6,109.0 324.8,103.9 325.1,98.4 325.3,92.5 325.6,86.5 325.8,80.3 326.1,74.2 326.3,68.3 326.5,62.7 326.8,57.5 327.0,52.9 327.3,48.9 327.5,45.7 327.7,43.5 328.0,42.2 328.2,45.9 328.5,54.3 328.7,64.1 328.9,75.1 329.2,87.0 329.4,99.5 329.7,112.3 329.9,125.3 330.2,138.2 330.4,150.8 330.6,162.7 330.9,173.7 331.1,183.7 331.4,192.2 331.6,196.6 331.8,192.3 332.1,187.2 332.3,180.7 332.6,173.1 332.8,164.6 333.0,155.5 333.3,146.0 333.5,136.4 333.8,126.9 334.0,117.8 334.2,109.4 334.5,101.8 334.7,95.4 335.0,90.4 335.2,86.2 335.5,86.5 335.7,87.4 335.9,88.7 336.2,90.4 336.4,92.4 336.7,94.7 336.9,97.4 337.1,100.2 337.4,103.4 337.6,106.7 337.9,110.3 338.1,114.0 338.3,117.8 338.6,121.7 338.8,125.8 339.1,129.8 339.3,134.0 339.6,138.1 339.8,142.2 340.0,146.2 340.3,150.2 340.5,154.1 340.8,157.8 341.0,161.4 341.2,164.8 341.5,168.0 341.7,171.0 342.0,173.7 342.2,176.2 342.4,178.3 342.7,180.1 342.9,181.5 343.2,182.5 343.4,183.1 343.6,182.0 343.9,180.6 344.1,178.8 344.4,176.7 344.6,174.3 344.9,171.6 345.1,168.6 345.3,165.4 345.6,161.9 345.8,158.3 346.1,154.5 346.3,150.5 346.5,146.4 346.8,142.2 347.0,138.0 347.3,133.6 347.5,129.3 347.7,124.9 348.0,120.6 348.2,116.2 348.5,112.0 348.7,107.8 349.0,103.8 349.2,99.8 349.4,96.0 349.7,92.4 349.9,89.0 350.2,85.9 350.4,82.9 350.6,80.3 350.9,77.9 351.1,75.9 351.4,74.2 351.6,72.8 351.8,72.0 352.1,73.4 352.3,75.3 352.6,77.7 352.8,80.6 353.0,84.0 353.3,87.7 353.5,91.8 353.8,96.3 354.0,101.0 354.3,105.9 354.5,111.0 354.7,116.2 355.0,121.5 355.2,126.8 355.5,132.1 355.7,137.3 355.9,142.5 356.2,147.5 356.4,152.3 356.7,156.8 356.9,161.1 357.1,165.0 357.4,168.6 357.6,171.7 357.9,174.3 358.1,176.4 358.4,177.9 358.6,178.6 358.8,176.8 359.1,175.2 359.3,173.3 359.6,171.1 359.8,168.8 360.0,166.2 360.3,163.4 360.5,160.4 360.8,157.3 361.0,154.0 361.2,150.6 361.5,147.0 361.7,143.4 362.0,139.6 362.2,135.8 362.4,131.8 362.7,127.9 362.9,123.9 363.2,119.8 363.4,115.8 363.7,111.7 363.9,107.7 364.1,103.7 364.4,99.8 364.6,95.9 364.9,92.1 365.1,88.4 365.3,84.7 365.6,81.2 365.8,77.9 366.1,74.7 366.3,71.6 366.5,68.8 366.8,66.1 367.0,63.6 367.3,61.4 367.5,59.3 367.7,57.6 368.0,56.1 368.2,55.0 368.5,58.9 368.7,63.6 369.0,69.4 369.2,76.0 369.4,83.3 369.7,91.3 369.9,99.6 370.2,108.4 370.4,117.2 370.6,126.1 370.9,134.9 371.1,143.5 371.4,151.6 371.6,159.2 371.8,166.1 372.1,172.2 372.3,177.4 372.6,181.4 372.8,183.1 373.1,181.7 373.3,180.1 373.5,178.0 373.8,175.4 374.0,172.3 374.3,168.9 374.5,165.1 374.7,161.0 375.0,156.7 375.2,152.2 375.5,147.5 375.7,142.7 375.9,137.8 376.2,132.9 376.4,128.0 376.7,123.2 376.9,118.5 377.1,113.9 377.4,109.5 377.6,105.4 377.9,101.5 378.1,98.0 378.4,94.8 378.6,92.0 378.8,89.8 379.1,88.0 379.3,86.7 379.6,86.2 379.8,86.3 380.0,86.5 380.3,86.9 380.5,87.4 380.8,88.0 381.0,88.8 381.2,89.6 381.5,90.6 381.7,91.7 382.0,92.9 382.2,94.3 382.5,95.7 382.7,97.2 382.9,98.9 383.2,100.6 383.4,102.5 383.7,104.4 383.9,106.4 384.1,108.6 384.4,110.8 384.6,113.1 384.9,115.5 385.1,117.9 385.3,120.5 385.6,123.1 385.8,125.8 386.1,128.6 386.3,131.4 386.5,134.3 386.8,137.3 387.0,140.3 387.3,143.4 387.5,146.5 387.8,149.0 388.0,154.8 388.2,161.7 388.5,169.9 388.7,178.9 389.0,188.0 389.2,196.7 389.4,204.2 389.7,210.1 389.9,213.7 390.2,214.6 390.4,205.4 390.6,196.9 390.9,187.6 391.1,177.5 391.4,166.8 391.6,155.7 391.9,144.3 392.1,132.8 392.3,121.3 392.6,110.0 392.8,99.0 393.1,88.5 393.3,78.7 393.5,69.6 393.8,61.5 394.0,55.0 394.3,58.4 394.5,63.2 394.7,69.3 395.0,76.4 395.2,84.5 395.5,93.3 395.7,102.5 395.9,112.0 396.2,121.5 396.4,130.8 396.7,139.8 396.9,148.2 397.2,155.8 397.4,162.4 397.6,167.7 397.9,171.6 398.1,173.0 398.4,171.4 398.6,169.9 398.8,168.2 399.1,166.3 399.3,164.2 399.6,161.9 399.8,159.3 400.0,156.6 400.3,153.7 400.5,150.7 400.8,147.5 401.0,144.2 401.3,140.8 401.5,137.3 401.7,133.7 402.0,130.1 402.2,126.4 402.5,122.6 402.7,118.8 402.9,115.0 403.2,111.2 403.4,107.4 403.7,103.6 403.9,99.8 404.1,96.1 404.4,92.5 404.6,89.0 404.9,85.5 405.1,82.2 405.3,78.9 405.6,75.8 405.8,72.9 406.1,70.1 406.3,67.4 406.6,65.0 406.8,62.7 407.0,60.7 407.3,58.9 407.5,57.3 407.8,56.0 408.0,55.0 408.2,58.2 408.5,62.6 408.7,67.9 409.0,74.2 409.2,81.1 409.4,88.7 409.7,96.8 409.9,105.2 410.2,113.8 410.4,122.4 410.7,131.0 410.9,139.5 411.1,147.6 411.4,155.2 411.6,162.2 411.9,168.5 412.1,174.0 412.3,178.4 412.6,182.0 412.8,181.3 413.1,180.1 413.3,178.4 413.5,176.3 413.8,173.8 414.0,171.0 414.3,167.8 414.5,164.3 414.7,160.6 415.0,156.7 415.2,152.6 415.5,148.3 415.7,144.0 416.0,139.5 416.2,134.9 416.4,130.4 416.7,125.9 416.9,121.4 417.2,116.9 417.4,112.6 417.6,108.5 417.9,104.5 418.1,100.7 418.4,97.2 418.6,93.9 418.8,91.0 419.1,88.4 419.3,86.2 419.6,84.4 419.8,83.0 420.1,82.0 420.3,82.9 420.5,84.4 420.8,86.2 421.0,88.4 421.3,90.7 421.5,93.4 421.7,96.3 422.0,99.4 422.2,102.7 422.5,106.2 422.7,109.9 422.9,113.7 423.2,117.7 423.4,121.7 423.7,125.9 423.9,130.1 424.1,134.4 424.4,138.7 424.6,143.0 424.9,147.3 425.1,151.6 425.4,155.8 425.6,160.0 425.8,164.0 426.1,168.0 426.3,171.9 426.6,175.6 426.8,179.2 427.0,182.6 427.3,185.8 427.5,188.7 427.8,191.5 428.0,194.0 428.2,196.2 428.5,198.1 428.7,199.7 429.0,201.1 429.2,199.0 429.4,195.6 429.7,191.2 429.9,185.9 430.2,179.9 430.4,173.2 430.7,166.0 430.9,158.5 431.1,150.7 431.4,142.8 431.6,134.8 431.9,127.0 432.1,119.4 432.3,112.2 432.6,105.4 432.8,99.3 433.1,93.8 433.3,89.2 433.5,85.6 433.8,83.0 434.0,83.9 434.3,85.3 434.5,87.0 434.8,89.1 435.0,91.5 435.2,94.1 435.5,97.1 435.7,100.3 436.0,103.7 436.2,107.3 436.4,111.1 436.7,115.0 436.9,119.0 437.2,123.2 437.4,127.4 437.6,131.7 437.9,136.1 438.1,140.4 438.4,144.8 438.6,149.1 438.8,153.3 439.1,157.5 439.3,161.5 439.6,165.4 439.8,169.2 440.1,172.8 440.3,176.2 440.5,179.4 440.8,182.3 441.0,184.9 441.3,187.3 441.5,189.4 441.7,191.1 442.0,192.4 442.2,193.3 442.5,191.9 442.7,190.1 442.9,187.9 443.2,185.1 443.4,182.0 443.7,178.6 443.9,174.8 444.2,170.7 444.4,166.3 444.6,161.8 444.9,157.0 445.1,152.1 445.4,147.1 445.6,142.1 445.8,137.0 446.1,131.9 446.3,126.9 446.6,121.9 446.8,117.1 447.0,112.4 447.3,107.9 447.5,103.6 447.8,99.6 448.0,95.9 448.2,92.5 448.5,89.5 448.7,87.0 449.0,84.8 449.2,83.2 449.5,82.3 449.7,83.7 449.9,85.2 450.2,86.9 450.4,89.0 450.7,91.3 450.9,93.9 451.1,96.6 451.4,99.6 451.6,102.8 451.9,106.2 452.1,109.7 452.3,113.3 452.6,117.1 452.8,120.9 453.1,124.9 453.3,128.9 453.6,133.0 453.8,137.1 454.0,141.2 454.3,145.3 454.5,149.4 454.8,153.4 455.0,157.4 455.2,161.4 455.5,165.2 455.7,168.9 456.0,172.5 456.2,176.0 456.4,179.3 456.7,182.4 456.9,185.3 457.2,188.1 457.4,190.6 457.6,192.8 457.9,194.8 458.1,196.5 458.4,197.9 458.6,198.9 458.9,196.3 459.1,192.7 459.3,188.1 459.6,182.6 459.8,176.4 460.1,169.5 460.3,162.2 460.5,154.5 460.8,146.5 461.0,138.5 461.3,130.6 461.5,122.7 461.7,115.2 462.0,108.2 462.2,101.7 462.5,95.9 462.7,90.9 463.0,86.9 463.2,83.0 463.4,83.5 463.7,84.6 463.9,86.0 464.2,87.7 464.4,89.8 464.6,92.1 464.9,94.6 465.1,97.4 465.4,100.4 465.6,103.5 465.8,106.9 466.1,110.4 466.3,114.0 466.6,117.8 466.8,121.7 467.0,125.6 467.3,129.6 467.5,133.6 467.8,137.7 468.0,141.7 468.3,145.8 468.5,149.8 468.7,153.7 469.0,157.6 469.2,161.4 469.5,165.0 469.7,168.6 469.9,172.0 470.2,175.2 470.4,178.2 470.7,181.0 470.9,183.6 471.1,186.0 471.4,188.1 471.6,189.9 471.9,191.4 472.1,192.6 472.4,193.3 472.6,191.5 472.8,189.1 473.1,186.1 473.3,182.4 473.6,178.2 473.8,173.6 474.0,168.5 474.3,163.1 474.5,157.4 474.8,151.5 475.0,145.4 475.2,139.3 475.5,133.2 475.7,127.2 476.0,121.3 476.2,115.6 476.4,110.2 476.7,105.1 476.9,100.4 477.2,96.1 477.4,92.4 477.7,89.4 477.9,87.0 478.1,85.0 478.4,85.8 478.6,87.2 478.9,88.8 479.1,90.7 479.3,92.8 479.6,95.1 479.8,97.6 480.1,100.4 480.3,103.2 480.5,106.3 480.8,109.5 481.0,112.8 481.3,116.3 481.5,119.9 481.8,123.5 482.0,127.2 482.2,131.1 482.5,134.9 482.7,138.8 483.0,142.7 483.2,146.7 483.4,150.6 483.7,154.5 483.9,158.4 484.2,162.2 484.4,166.0 484.6,169.7 484.9,173.3 485.1,176.8 485.4,180.3 485.6,183.5 485.8,186.7 486.1,189.7 486.3,192.5 486.6,195.1 486.8,197.6 487.1,199.8 487.3,201.8 487.5,203.6 487.8,205.2 488.0,206.8 488.3,204.6 488.5,200.4 488.7,195.0 489.0,188.7 489.2,181.6 489.5,173.9 489.7,165.6 489.9,156.9 490.2,148.1 490.4,139.1 490.7,130.2 490.9,121.4 491.1,113.0 491.4,105.1 491.6,97.7 491.9,91.1 492.1,85.4 492.4,80.7 492.6,77.1 492.8,77.9 493.1,79.3 493.3,81.4 493.6,84.1 493.8,87.2 494.0,90.8 494.3,94.8 494.5,99.2 494.8,103.8 495.0,108.6 495.2,113.7 495.5,118.8 495.7,124.0 496.0,129.2 496.2,134.4 496.5,139.4 496.7,144.3 496.9,149.0 497.2,153.3 497.4,157.4 497.7,161.1 497.9,164.3 498.1,167.1 498.4,169.2 498.6,170.8 498.9,171.8 499.1,171.7 499.3,171.5 499.6,171.1 499.8,170.5 500.1,169.8 500.3,168.9 500.5,167.9 500.8,166.8 501.0,165.5 501.3,164.2 501.5,162.7 501.8,161.2 502.0,159.5 502.2,157.8 502.5,156.0 502.7,154.2 503.0,152.2 503.2,150.3 503.4,148.3 503.7,146.3 503.9,144.3 504.2,142.2 504.4,140.1 504.6,138.1 504.9,136.1 505.1,134.0 505.4,132.1 505.6,131.0 505.9,127.8 506.1,125.2 506.3,122.4 506.6,119.3 506.8,116.0 507.1,112.6 507.3,109.0 507.5,105.3 507.8,101.6 508.0,97.8 508.3,94.1 508.5,90.4 508.7,86.8 509.0,83.3 509.2,79.9 509.5,76.7 509.7,73.8 509.9,71.0 510.2,68.6 510.4,66.5 510.7,64.8 510.9,63.4 511.2,62.5 511.4,62.0 511.6,65.2 511.9,72.1 512.1,80.3 512.4,89.6 512.6,99.8 512.8,110.7 513.1,122.1 513.3,133.6 513.6,145.3 513.8,156.7 514.0,167.7 514.3,178.1 514.5,187.6 514.8,196.1 515.0,203.3 515.3,207.9 515.5,201.3 515.7,193.7 516.0,184.4 516.2,173.8 516.5,162.4 516.7,150.3 516.9,138.0 517.2,125.8 517.4,114.2 517.7,103.3 517.9,93.7 518.1,85.5 518.4,77.1 518.6,77.6 518.9,79.6 519.1,83.1 519.3,87.8 519.6,93.5 519.8,100.0 520.1,107.1 520.3,114.6 520.6,122.3 520.8,130.0 521.0,137.5 521.3,144.6 521.5,151.1 521.8,156.7 522.0,161.4 522.2,164.8 522.5,167.3 522.7,167.3 523.0,167.2 523.2,167.0 523.4,166.7 523.7,166.3 523.9,165.8 524.2,165.3 524.4,164.6 524.7,163.9 524.9,163.1 525.1,162.2 525.4,161.2 525.6,160.1 525.9,159.0 526.1,157.8 526.3,156.6 526.6,155.2 526.8,153.8 527.1,152.4 527.3,150.9 527.5,149.3 527.8,147.7 528.0,146.0 528.3,144.3 528.5,142.5 528.7,140.7 529.0,138.9 529.2,137.0 529.5,135.1 529.7,133.1 530.0,131.1 530.2,129.0 530.4,126.7 530.7,123.8 530.9,120.4 531.2,116.6 531.4,112.5 531.6,108.0 531.9,103.3 532.1,98.4 532.4,93.4 532.6,88.3 532.8,83.2 533.1,78.3 533.3,72.0 533.6,68.4 533.8,62.4 534.1,55.8 534.3,49.0 534.5,42.6 534.8,37.0 535.0,32.7 535.3,30.2 535.5,29.8 535.7,45.9 536.0,59.4 536.2,74.2 536.5,89.9 536.7,106.3 536.9,122.9 537.2,139.5 537.4,155.6 537.7,171.1 537.9,185.4 538.1,198.4 538.4,210.1 538.6,206.3 538.9,201.2 539.1,195.1 539.4,188.2 539.6,180.6 539.8,172.3 540.1,163.7 540.3,154.7 540.6,145.5 540.8,136.3 541.0,127.1 541.3,118.2 541.5,109.6 541.8,101.5 542.0,94.0 542.2,87.3 542.5,81.4 542.7,76.6 543.0,73.8 543.2,75.3"/>
</g>
<g stroke="#222" stroke-width="1.2" fill="none">
<rect x="49.85" y="7.4" width="493.6" height="248.7"/>
<path d="M49.85 256.1v-5.3M49.85 7.4v5.3M98.05 256.1v-5.3M98.05 7.4v5.3M146.26 256.1v-5.3M146.26 7.4v5.3M194.46 256.1v-5.3M194.46 7.4v5.3M242.66 256.1v-5.3M242.66 7.4v5.3M290.87 256.1v-5.3M290.87 7.4v5.3M339.07 256.1v-5.3M339.07 7.4v5.3M387.27 256.1v-5.3M387.27 7.4v5.3M435.48 256.1v-5.3M435.48 7.4v5.3M483.68 256.1v-5.3M483.68 7.4v5.3M531.88 256.1v-5.3M531.88 7.4v5.3M49.85 256.10h5.3M543.45 256.10h-5.3M49.85 214.65h5.3M543.45 214.65h-5.3M49.85 173.20h5.3M543.45 173.20h-5.3M49.85 131.75h5.3M543.45 131.75h-5.3M49.85 90.30h5.3M543.45 90.30h-5.3M49.85 48.85h5.3M543.45 48.85h-5.3M49.85 7.40h5.3M543.45 7.40h-5.3"/>
</g>
<g font-family="Liberation Sans, Arial, sans-serif" font-size="14" fill="#222">
<text x="49.85" y="276" text-anchor="middle">0</text>
<text x="98.05" y="276" text-anchor="middle">200</text>
<text x="146.26" y="276" text-anchor="middle">400</text>
<text x="194.46" y="276" text-anchor="middle">600</text>
<text x="242.66" y="276" text-anchor="middle">800</text>
<text x="290.87" y="276" text-anchor="middle">1000</text>
<text x="339.07" y="276" text-anchor="middle">1200</text>
<text x="387.27" y="276" text-anchor="middle">1400</text>
<text x="435.48" y="276" text-anchor="middle">1600</text>
<text x="483.68" y="276" text-anchor="middle">1800</text>
<text x="531.88" y="276" text-anchor="middle">2000</text>
<text x="43.6" y="261.50" text-anchor="end">-30</text>
<text x="43.6" y="220.05" text-anchor="end">-20</text>
<text x="43.6" y="178.60" text-anchor="end">-10</text>
<text x="43.6" y="137.15" text-anchor="end">0</text>
<text x="43.6" y="95.70" text-anchor="end">10</text>
<text x="43.6" y="54.25" text-anchor="end">20</text>
<text x="43.6" y="12.80" text-anchor="end">30</text>
</g>
<g font-family="Liberation Serif, Times New Roman, serif" font-size="16.5" fill="#111">
<text x="296.05" y="295.8" text-anchor="middle" textLength="99.6" lengthAdjust="spacingAndGlyphs">Sample points</text>
<text transform="translate(16.7,131.45) rotate(-90)" text-anchor="middle" textLength="85.2" lengthAdjust="spacingAndGlyphs">Amplitude</text>
</g>
<rect x="361.9" y="21.0" width="168.3" height="44.6" fill="#fff" stroke="#1a1a1a" stroke-width="1.3"/>
<path d="M365.9 33.1H398.3" stroke="#ff0000" stroke-width="1.5"/>
<path d="M365.9 53.4H398.3" stroke="#0000ff" stroke-width="1.5"/>
<g font-family="Liberation Serif, Times New Roman, serif" font-size="17.5" fill="#111">
<text x="401.0" y="38.6" textLength="93.6" lengthAdjust="spacingAndGlyphs">noisy signal</text>
<text x="401.0" y="59.3" textLength="121.8" lengthAdjust="spacingAndGlyphs">noiseless signal</text>
</g>
<rect x="0" y="297" width="550" height="7" fill="#fff"/>
</svg>
</body></html>
